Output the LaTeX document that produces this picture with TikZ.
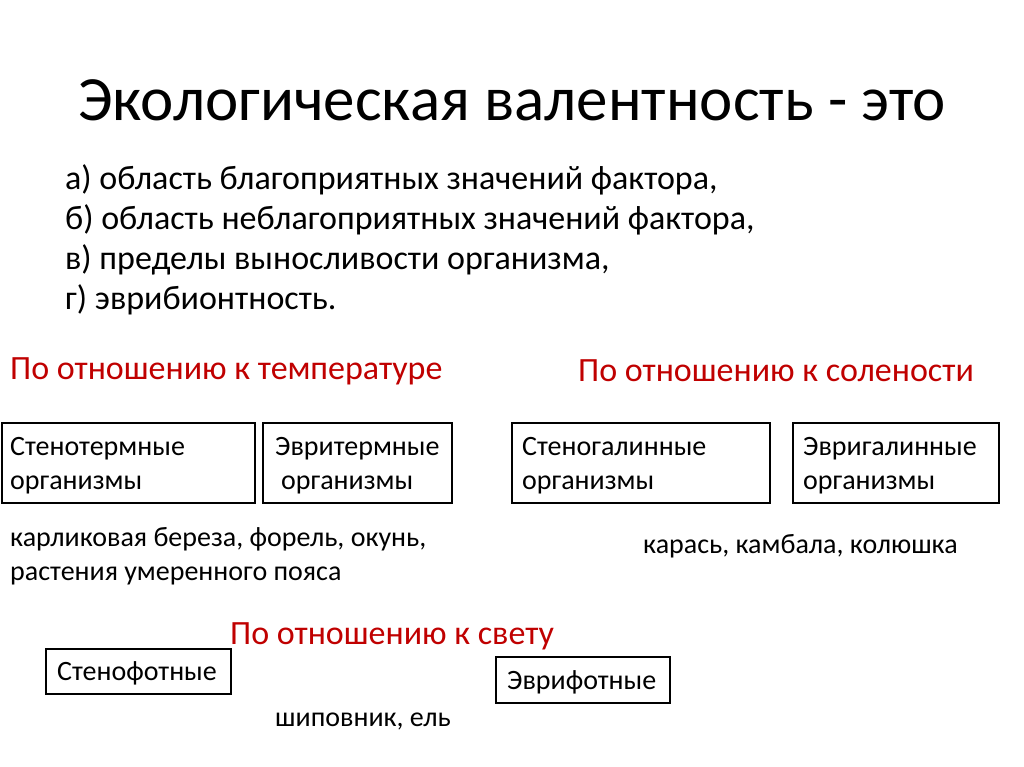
\documentclass[tikz,border=0pt]{standalone}
\usepackage{fontspec}
\setmainfont{Carlito}
\definecolor{hred}{RGB}{192,0,0}
\begin{document}
\begin{tikzpicture}[x=1pt,y=-1pt,
  txt/.style={anchor=west,inner sep=0pt,font=\fontsize{34}{40}\selectfont},
  red/.style={anchor=west,inner sep=0pt,text=hred,font=\fontsize{34}{40}\selectfont},
  ex/.style={anchor=west,inner sep=0pt,align=left,font=\fontsize{28}{34}\selectfont},
  bx/.style={draw,line width=1.6pt}]
\useasboundingbox[fill=white] (0,0) rectangle (1024,767);
\node[inner sep=0pt,font=\fontsize{63}{70}\selectfont] (title) at (512,100) {Экологическая валентность - это};
\node[txt] (l1) at (65,180) {а) область благоприятных значений фактора,};
\node[txt] (l2) at (65,220) {б) область неблагоприятных значений фактора,};
\node[txt] (l3) at (65,260) {в) пределы выносливости организма,};
\node[txt] (l4) at (65,300) {г) эврибионтность.};
\node[red] (h1) at (10,371) {По отношению к температуре};
\node[red] (h2) at (578,371) {По отношению к солености};
\node[red] (h3) at (230,636) {По отношению к свету};
\draw[bx] (2,423) rectangle (255,503); \node[ex] (b1) at (10,466) {Стенотермные\\организмы};
\draw[bx] (263,423) rectangle (452,503); \node[ex] (b2) at (275,466) {Эвритермные\\\hspace*{6pt}организмы};
\draw[bx] (512,423) rectangle (770,503); \node[ex] (b3) at (522,466) {Стеногалинные\\организмы};
\draw[bx] (793,423) rectangle (999,503); \node[ex] (b4) at (803,466) {Эвригалинные\\организмы};
\node[ex] (e1) at (10,556) {карликовая береза, форель, окунь,\\растения умеренного пояса};
\node[ex] (e2) at (643,546) {карась, камбала, колюшка};
\draw[bx] (46,649) rectangle (231,694); \node[ex] (b5) at (57,673) {Стенофотные};
\draw[bx] (496,657) rectangle (670,703); \node[ex] (b6) at (507,682) {Эврифотные};
\node[ex] (e3) at (275,721) {шиповник, ель};
\end{tikzpicture}
\end{document}
